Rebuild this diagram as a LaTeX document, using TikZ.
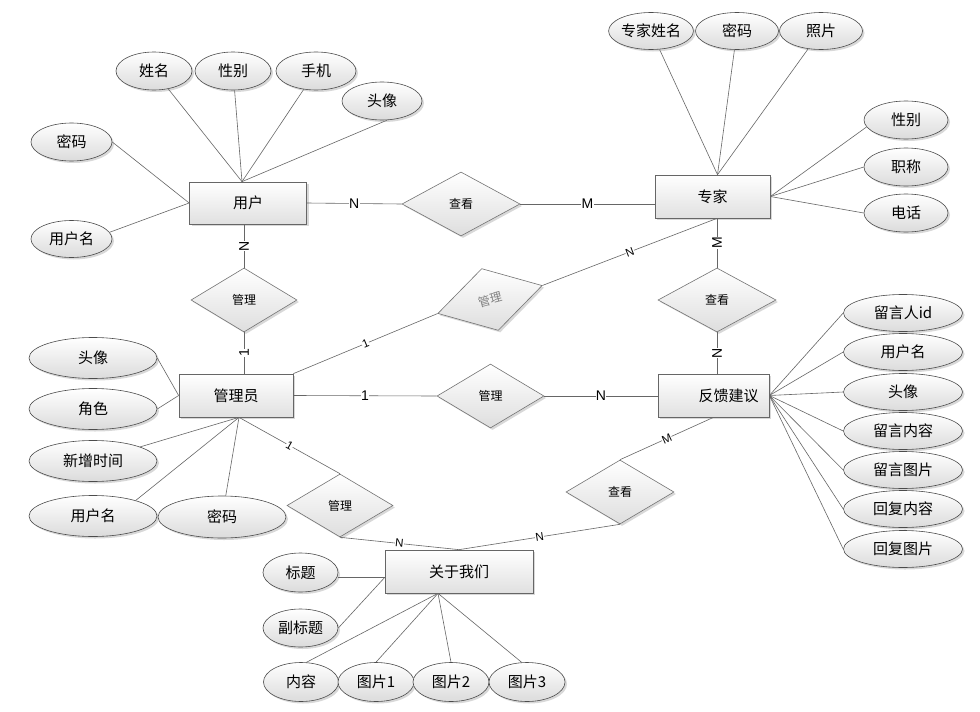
\documentclass[tikz,border=0pt]{standalone}
\usepackage{fontspec}
\newfontfamily\cjk{Noto Sans CJK SC}
\newfontfamily\lsans{Liberation Sans}
\usetikzlibrary{shapes.geometric,shadows,calc}
\begin{document}
\begin{tikzpicture}[x=1pt,y=-1pt,
 shd/.style={drop shadow={shadow xshift=2pt,shadow yshift=-2pt,opacity=0.3,fill=black!50}},
 ent/.style={rectangle,draw=black!60,line width=0.7pt,top color=white,bottom color=black!12,shd,inner sep=0pt,font=\cjk\fontsize{15pt}{18pt}\selectfont},
 attr/.style={ellipse,draw=black!70,line width=0.6pt,top color=white,bottom color=black!14,shd,inner sep=0pt,font=\cjk\fontsize{15pt}{18pt}\selectfont},
 rel/.style={diamond,draw=black!55,line width=0.6pt,top color=white,bottom color=black!13,shd,inner sep=0pt,font=\cjk\fontsize{12pt}{14pt}\selectfont},
 card/.style={font=\lsans\fontsize{14pt}{15pt}\selectfont,fill=white,inner sep=0.4pt},
 cards/.style={font=\lsans\fontsize{11.5pt}{12pt}\selectfont,fill=white,inner sep=0.3pt,sloped},
 ln/.style={draw=black!60,line width=0.6pt}]
\fill[white] (0,0) rectangle (980,712);
\useasboundingbox (0,0) rectangle (980,712);

% entities
\node[ent,minimum width=117pt,minimum height=42pt] (u) at (248,203) {用户};
\node[ent,minimum width=115pt,minimum height=43pt] (zj) at (712.5,196.5) {专家};
\node[ent,minimum width=114pt,minimum height=43pt] (m) at (236,395.5) {管理员};
\node[ent,minimum width=111pt,minimum height=43pt] (fk) at (713.5,395.5) {\hspace*{30pt}反馈建议};
\node[ent,minimum width=148pt,minimum height=43pt] (gy) at (459,571.5) {关于我们};

% relationships
\node[rel,minimum width=118pt,minimum height=64pt] (ck1) at (461,204) {查看};
\node[rel,minimum width=106pt,minimum height=64pt] (gl1) at (244,300) {管理};
\node[rel,minimum width=108pt,minimum height=64pt,rotate=15,text=black!50] (gl2) at (490,299.5) {管理};
\node[rel,minimum width=107pt,minimum height=64pt] (gl3) at (490.5,396) {管理};
\node[rel,minimum width=118pt,minimum height=64pt] (ck2) at (717,300) {查看};
\node[rel,minimum width=108pt,minimum height=64pt] (ck3) at (620,492) {查看};
\node[rel,minimum width=106pt,minimum height=63pt] (gl4) at (340,505.5) {管理};

% user attributes
\node[attr,minimum width=76pt,minimum height=38pt] (xm) at (154,71) {姓名};
\node[attr,minimum width=76pt,minimum height=38pt] (xb) at (233,71) {性别};
\node[attr,minimum width=80pt,minimum height=38pt] (sj) at (316,71) {手机};
\node[attr,minimum width=80pt,minimum height=38pt] (tx) at (382,101) {头像};
\node[attr,minimum width=81pt,minimum height=38pt] (mm) at (71.5,142) {密码};
\node[attr,minimum width=81pt,minimum height=37pt] (yhm) at (71.5,239) {用户名};

% expert attributes
\node[attr,minimum width=83pt,minimum height=37pt] (zjxm) at (651,31) {专家姓名};
\node[attr,minimum width=83pt,minimum height=37pt] (zmm) at (737,31) {密码};
\node[attr,minimum width=83pt,minimum height=37pt] (zp) at (821,31) {照片};
\node[attr,minimum width=84pt,minimum height=38pt] (zxb) at (906,120) {性别};
\node[attr,minimum width=84pt,minimum height=38pt] (zzc) at (906,167) {职称};
\node[attr,minimum width=84pt,minimum height=38pt] (zdh) at (906,213) {电话};

% admin attributes
\node[attr,minimum width=128pt,minimum height=41pt] (a1) at (93,358) {头像};
\node[attr,minimum width=128pt,minimum height=41pt] (a2) at (93,409) {角色};
\node[attr,minimum width=128pt,minimum height=41pt] (a3) at (93,461) {新增时间};
\node[attr,minimum width=128pt,minimum height=41pt] (a4) at (93,516) {用户名};
\node[attr,minimum width=128pt,minimum height=42pt] (a5) at (222,517) {密码};

% feedback attributes
\node[attr,minimum width=119pt,minimum height=37pt] (f1) at (903,313) {留言人id};
\node[attr,minimum width=119pt,minimum height=37pt] (f2) at (903,352) {用户名};
\node[attr,minimum width=119pt,minimum height=37pt] (f3) at (903,392) {头像};
\node[attr,minimum width=119pt,minimum height=37pt] (f4) at (903,431) {留言内容};
\node[attr,minimum width=119pt,minimum height=37pt] (f5) at (903,470) {留言图片};
\node[attr,minimum width=119pt,minimum height=37pt] (f6) at (903,509) {回复内容};
\node[attr,minimum width=119pt,minimum height=37pt] (f7) at (903,549) {回复图片};

% about attributes
\node[attr,minimum width=75pt,minimum height=39pt] (b1) at (300.5,572.5) {标题};
\node[attr,minimum width=75pt,minimum height=38pt] (b2) at (300.5,628) {副标题};
\node[attr,minimum width=75pt,minimum height=39pt] (b3) at (301,682) {内容};
\node[attr,minimum width=76pt,minimum height=39pt] (b4) at (376,682) {图片1};
\node[attr,minimum width=76pt,minimum height=39pt] (b5) at (451,682) {图片2};
\node[attr,minimum width=76pt,minimum height=39pt] (b6) at (527,682) {图片3};

% helper coordinates on nodes
\coordinate (uT) at ([xshift=-6pt]u.north);
\coordinate (zjT) at ([xshift=5pt]zj.north);
\coordinate (mB) at ([xshift=3pt]m.south);
\coordinate (gyL) at ([yshift=-6pt]gy.west);
\coordinate (gyB) at ([xshift=-21pt]gy.south);

% user lines
\draw[ln] (uT) -- (xm);
\draw[ln] (uT) -- (xb);
\draw[ln] (uT) -- (sj);
\draw[ln] (uT) -- (tx.-75);
\draw[ln] (mm.east) -- (u.west);
\draw[ln] (yhm.10) -- (u.west);
\draw[ln] (u.east) -- node[card]{N} (ck1.west);
\draw[ln] (ck1.east) -- node[card]{M} (ck1.east -| zj.west);
\draw[ln] (gl1.north |- u.south) -- node[card,rotate=90]{N} (gl1.north);
\draw[ln] (gl1.south) -- node[card,rotate=90]{1} (gl1.south |- m.north);

% expert lines
\draw[ln] (zjT) -- (zjxm);
\draw[ln] (zjT) -- (zmm);
\draw[ln] (zjT) -- (zp);
\draw[ln] (zj.east) -- (zxb.190);
\draw[ln] (zj.east) -- (zzc.west);
\draw[ln] (zj.east) -- (zdh.west);

% admin lines
\draw[ln] (a1.east) -- (m.west);
\draw[ln] (a2.east) -- (m.west);
\draw[ln] (mB) -- (a3);
\draw[ln] (mB) -- (a4.20);
\draw[ln] (mB) -- (a5.80);
\draw[ln] (mB) -- node[cards]{1} (gl4.north);
\draw[ln] (m.north east) -- node[cards]{1} (gl2.west);
\draw[ln] (m.east) -- node[card]{1} (gl3.west);
\draw[ln] (gl3.east) -- node[card]{N} (gl3.east -| fk.west);
\draw[ln] (gl2.east) -- node[cards]{N} (ck2.north |- zj.south);
\draw[ln] (ck2.north |- zj.south) -- node[card,rotate=90]{M} (ck2.north);
\draw[ln] (ck2.south) -- node[card,rotate=90]{N} (ck2.south |- fk.north);
\draw[ln] (ck3.north) -- node[cards]{M} (fk.south);
\draw[ln] (ck3.south) -- node[cards]{N} (gy.north);
\draw[ln] (gl4.south) -- node[cards]{N} (gy.north);

% feedback lines
\foreach \i in {1,...,7} { \draw[ln] (fk.east) -- (f\i.west); }

% about lines
\draw[ln] (b1.east |- gyL) -- (gyL);
\draw[ln] (b2.east) -- (gyL);
\draw[ln] (gyB) -- (b3.75);
\draw[ln] (gyB) -- (b4.north);
\draw[ln] (gyB) -- (b5.north);
\draw[ln] (gyB) -- (b6.105);
\end{tikzpicture}
\end{document}
